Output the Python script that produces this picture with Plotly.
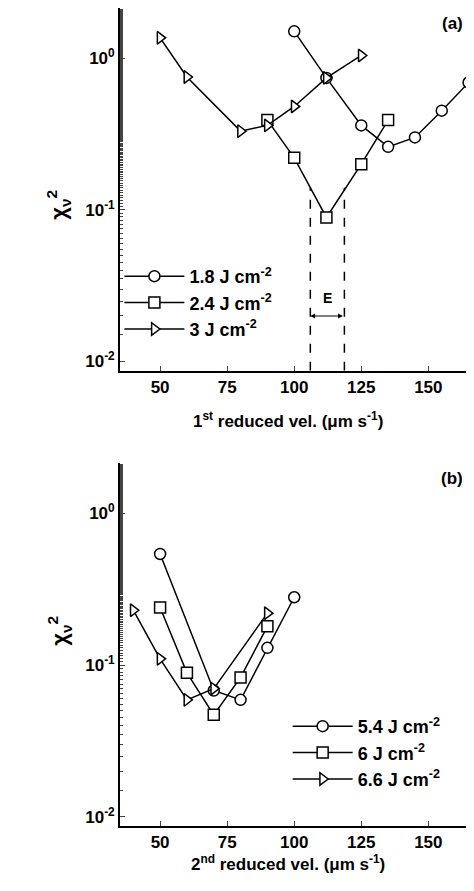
import plotly.graph_objects as go

# panel (a)
a_x_18 = [100, 112, 125, 135, 145, 155, 165]
a_y_18 = [1.5, 0.74, 0.36, 0.26, 0.30, 0.45, 0.69]
a_x_24 = [90, 100, 112, 125, 135]
a_y_24 = [0.39, 0.22, 0.089, 0.20, 0.39]
a_x_30 = [50, 60, 80, 90, 100, 112, 125]
a_y_30 = [1.36, 0.75, 0.33, 0.36, 0.48, 0.74, 1.04]
e_bounds = [106, 118.7]

# panel (b)
b_x_54 = [50, 70, 80, 90, 100]
b_y_54 = [0.54, 0.068, 0.059, 0.13, 0.28]
b_x_60 = [50, 60, 70, 80, 90]
b_y_60 = [0.24, 0.089, 0.047, 0.083, 0.18]
b_x_66 = [40, 50, 60, 70, 90]
b_y_66 = [0.23, 0.11, 0.059, 0.07, 0.22]

x_ticks = [50, 75, 100, 125, 150]
y_ticks = [1, 0.1, 0.01]
y_ticktext = ["10<sup>0</sup>", "10<sup>-1</sup>", "10<sup>-2</sup>"]

FONT = "Liberation Sans"

fig = go.Figure()

def add_series(x, y, name, symbol, xa, ya, legend):
    fig.add_trace(go.Scatter(
        x=x, y=y, mode='lines+markers', name=name,
        xaxis=xa, yaxis=ya, legend=legend,
        line=dict(color='black', width=1.5),
        marker=dict(symbol=symbol, size=11, color='white',
                    line=dict(color='black', width=1.5))
    ))

add_series(a_x_18, a_y_18, "1.8 J cm<sup>-2</sup>", 'circle', 'x', 'y', 'legend')
add_series(a_x_24, a_y_24, "2.4 J cm<sup>-2</sup>", 'square', 'x', 'y', 'legend')
add_series(a_x_30, a_y_30, "3 J cm<sup>-2</sup>", 'triangle-right', 'x', 'y', 'legend')
add_series(b_x_54, b_y_54, "5.4 J cm<sup>-2</sup>", 'circle', 'x2', 'y2', 'legend2')
add_series(b_x_60, b_y_60, "6 J cm<sup>-2</sup>", 'square', 'x2', 'y2', 'legend2')
add_series(b_x_66, b_y_66, "6.6 J cm<sup>-2</sup>", 'triangle-right', 'x2', 'y2', 'legend2')

# dashed lines marking E
for xv in e_bounds:
    fig.add_shape(type='line', xref='x', yref='y', x0=xv, x1=xv,
                  y0=0.0087, y1=0.14, line=dict(color='black', width=1.5, dash='dash'))
fig.add_annotation(xref='x', yref='y', x=e_bounds[0], y=-1.7, ax=e_bounds[1], ay=-1.7,
                   axref='x', ayref='y', text='', showarrow=True, arrowhead=2,
                   arrowside='end+start', arrowsize=0.8, arrowwidth=1.2, arrowcolor='black')
fig.add_annotation(xref='x', yref='y', x=sum(e_bounds) / 2, y=-1.58, text='E',
                   showarrow=False, font=dict(size=14))

axis_x = dict(range=[35, 170], tickvals=x_ticks, ticks='inside', ticklen=5,
              showline=True, linecolor='black', linewidth=1.5, showgrid=False,
              zeroline=False, tickfont=dict(size=17), mirror=False)
axis_y = dict(type='log', range=[-2.06, 0.33], tickvals=y_ticks, ticktext=y_ticktext,
              ticks='inside', ticklen=5, minor=dict(ticks='inside', ticklen=3),
              showline=True, linecolor='black', linewidth=1.5, showgrid=False,
              tickfont=dict(size=17))

legend_style = dict(bgcolor='rgba(0,0,0,0)', font=dict(size=18), itemwidth=60,
                    tracegroupgap=0, xanchor='left', yanchor='top')

fig.update_layout(
    width=474, height=891,
    margin=dict(l=0, r=0, t=0, b=0),
    plot_bgcolor='white', paper_bgcolor='white',
    font=dict(family=FONT, color='black', size=15, weight='bold'),
    xaxis=dict(axis_x, domain=[0.236, 1], anchor='y'),
    yaxis=dict(axis_y, domain=[0.593, 1], anchor='x'),
    xaxis2=dict(axis_x, domain=[0.236, 1], anchor='y2'),
    yaxis2=dict(axis_y, domain=[0.082, 0.489], anchor='x2'),
    legend=dict(legend_style, x=0.235, y=1 - 250 / 891),
    legend2=dict(legend_style, x=0.59, y=1 - 700 / 891),
    annotations=list(fig.layout.annotations) + [
        dict(text='(a)', xref='paper', yref='paper', x=0.965, y=0.995,
             xanchor='right', yanchor='top', showarrow=False, font=dict(size=17)),
        dict(text='(b)', xref='paper', yref='paper', x=0.965, y=0.485,
             xanchor='right', yanchor='top', showarrow=False, font=dict(size=17)),
        dict(text='1<sup>st</sup> reduced vel. (\u03bcm s<sup>-1</sup>)', xref='paper',
             yref='paper', x=0.59, y=1 - 412 / 891, showarrow=False, font=dict(size=17)),
        dict(text='2<sup>nd</sup> reduced vel. (\u03bcm s<sup>-1</sup>)', xref='paper',
             yref='paper', x=0.59, y=1 - 868 / 891, showarrow=False, font=dict(size=17)),
        dict(text='\u03c7<sub>\u03bd</sub><sup>2</sup>', xref='paper', yref='paper',
             x=0.07, y=1 - 180 / 891, textangle=-90, showarrow=False, font=dict(size=22)),
        dict(text='\u03c7<sub>\u03bd</sub><sup>2</sup>', xref='paper', yref='paper',
             x=0.07, y=1 - 640 / 891, textangle=-90, showarrow=False, font=dict(size=22)),
    ],
)

fig.write_html("out.html")
